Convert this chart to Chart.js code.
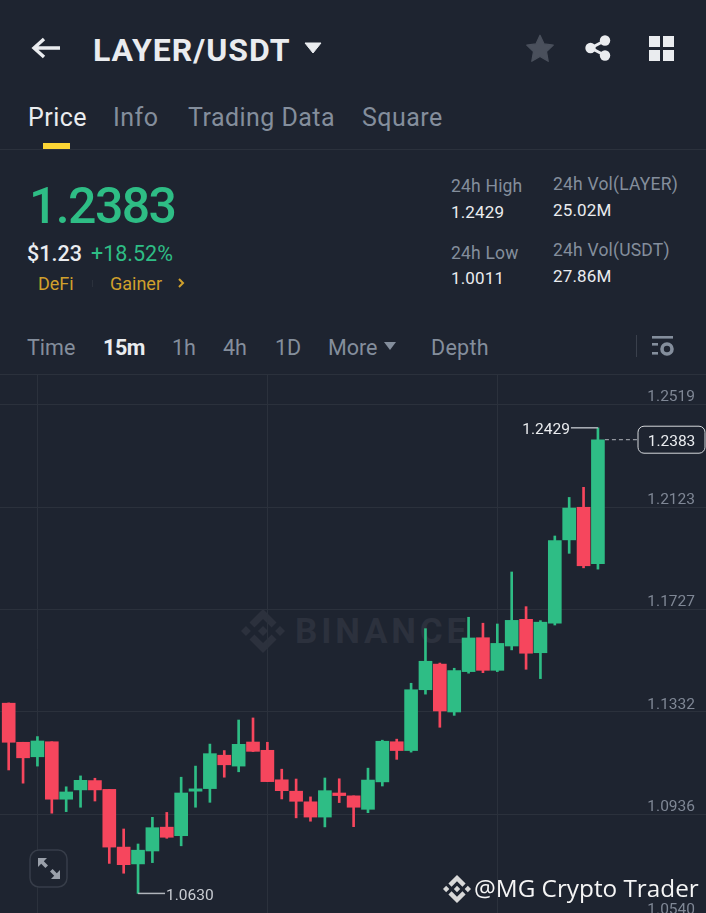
<!DOCTYPE html>
<html lang="en">
<head>
    <meta charset="UTF-8">
    <title>LAYER/USDT</title>
    <script src="https://cdn.jsdelivr.net/npm/chart.js"></script>
    <style>
        html, body {
            margin: 0;
            padding: 0;
            width: 706px;
            height: 913px;
            overflow: hidden;
            background: #1e2430;
            font-family: Roboto, sans-serif;
        }

        .t {
            position: absolute;
            white-space: nowrap;
            line-height: 1;
            color: #848e9c;
        }

        .w { color: #eaecef; }
        .g { color: #2ebd85; }
        .y { color: #d0a02c; font-size: 18px; }
        .tab { font-size: 25px; top: 105px; letter-spacing: 0.45px; }
        .small { font-size: 17.5px; letter-spacing: 0.2px; }
        .val { font-size: 17px; color: #eaecef; letter-spacing: 0.15px; }
        .range { font-size: 21.5px; top: 337px; }

        .line {
            position: absolute;
            background: #2b313c;
        }

        svg { position: absolute; }

        #chartWrap {
            position: absolute;
            left: 0;
            top: 374px;
            width: 706px;
            height: 551px;
        }

        #wmText {
            font-size: 35px;
            font-weight: 700;
            color: #2c313d;
            left: 295px;
            top: 614px;
            letter-spacing: 3.8px;
        }

        #credit {
            font-family: "Open Sans", sans-serif;
            font-size: 24.3px;
            color: #f5f5f5;
            left: 474px;
            top: 876px;
        }
    </style>
</head>

<body>
    <!-- top bar -->
    <svg style="left:31px;top:36px" width="30" height="24" viewBox="0 0 30 24">
        <path d="M13 3 L3 12 L13 21 M3 12 L29 12" fill="none" stroke="#eaecef" stroke-width="3.4"/>
    </svg>
    <div class="t w" style="left:93px;top:34px;font-size:32px;font-weight:700;letter-spacing:1px">LAYER/USDT</div>
    <svg style="left:304px;top:42px" width="18" height="12" viewBox="0 0 18 12">
        <path d="M1 1 H17 L9 11 Z" fill="#eaecef" stroke="#eaecef" stroke-linejoin="round"/>
    </svg>
    <svg style="left:525px;top:34px" width="30" height="29" viewBox="0 0 24 24">
        <path d="M12 1 L15.4 8.2 L23 9.2 L17.4 14.6 L18.8 22.6 L12 18.7 L5.2 22.6 L6.6 14.6 L1 9.2 L8.6 8.2 Z" fill="#4a505c" stroke="#4a505c" stroke-linejoin="round"/>
    </svg>
    <svg style="left:584px;top:34px" width="28" height="28" viewBox="0 0 28 28">
        <path d="M21 6.5 L7 14 L21 21.5" fill="none" stroke="#eaecef" stroke-width="3"/>
        <circle cx="21" cy="6.5" r="5.2" fill="#eaecef"/>
        <circle cx="6.5" cy="14" r="5.2" fill="#eaecef"/>
        <circle cx="21" cy="21.5" r="5.2" fill="#eaecef"/>
    </svg>
    <svg style="left:649px;top:36px" width="25" height="25" viewBox="0 0 25 25">
        <rect x="0" y="0" width="11" height="11" fill="#eaecef"/>
        <rect x="14" y="0" width="11" height="11" fill="#eaecef"/>
        <rect x="0" y="14" width="11" height="11" fill="#eaecef"/>
        <rect x="14" y="14" width="11" height="11" fill="#eaecef"/>
    </svg>

    <!-- tabs -->
    <div class="t tab w" style="left:28px">Price</div>
    <div class="t tab" style="left:113px">Info</div>
    <div class="t tab" style="left:188px">Trading Data</div>
    <div class="t tab" style="left:362px">Square</div>
    <div class="line" style="left:0;top:149px;width:706px;height:1px"></div>
    <div class="line" style="left:43px;top:143px;width:27px;height:6px;background:#fcd535"></div>

    <!-- price block -->
    <div class="t g" style="left:29px;top:181px;font-size:50px;font-weight:500;letter-spacing:-1.6px">1.2383</div>
    <div class="t w" style="left:27px;top:243px;font-size:21.5px;font-weight:500">$1.23</div>
    <div class="t g" style="left:91px;top:243px;font-size:21.5px">+18.52%</div>
    <div class="t y" style="left:38px;top:275px">DeFi</div>
    <div class="line" style="left:92px;top:280px;width:1px;height:7px"></div>
    <div class="t y" style="left:110px;top:275px">Gainer</div>
    <svg style="left:176px;top:277px" width="10" height="12" viewBox="0 0 10 12">
        <path d="M3 2 L7 6 L3 10" fill="none" stroke="#d0a02c" stroke-width="2"/>
    </svg>

    <div class="t small" style="left:451px;top:178px">24h High</div>
    <div class="t val" style="left:451px;top:204px">1.2429</div>
    <div class="t small" style="left:553px;top:176px">24h Vol(LAYER)</div>
    <div class="t val" style="left:553px;top:202px">25.02M</div>
    <div class="t small" style="left:451px;top:245px">24h Low</div>
    <div class="t val" style="left:451px;top:270px">1.0011</div>
    <div class="t small" style="left:553px;top:242px">24h Vol(USDT)</div>
    <div class="t val" style="left:553px;top:268px">27.86M</div>

    <!-- interval row -->
    <div class="t range" style="left:27px">Time</div>
    <div class="t range w" style="left:103px;font-weight:700;letter-spacing:-0.4px">15m</div>
    <div class="t range" style="left:172px">1h</div>
    <div class="t range" style="left:223px">4h</div>
    <div class="t range" style="left:275px">1D</div>
    <div class="t range" style="left:328px">More</div>
    <svg style="left:383px;top:341px" width="14" height="10" viewBox="0 0 14 10">
        <path d="M1 1 H13 L7 9 Z" fill="#848e9c"/>
    </svg>
    <div class="t range" style="left:431px;letter-spacing:0.3px">Depth</div>
    <div class="line" style="left:636px;top:335px;width:1px;height:22px;background:#3a404c"></div>
    <svg style="left:651px;top:335px" width="23" height="23" viewBox="0 0 23 23" fill="#848e9c">
        <rect x="1" y="1" width="21" height="2.6"/>
        <rect x="1" y="8" width="6" height="2.6"/>
        <rect x="1" y="17" width="6" height="2.6"/>
        <circle cx="16" cy="14" r="5" fill="none" stroke="#848e9c" stroke-width="3.6"/>
    </svg>
    <div class="line" style="left:0;top:374px;width:706px;height:1px"></div>

    <!-- watermark sits under the chart -->
    <svg style="left:241px;top:609px" width="44" height="44" viewBox="0 0 126.61 126.61" fill="#2c313d">
        <path d="M38.73 53.2l24.59-24.58 24.6 24.6 14.3-14.31L63.32 0 24.43 38.9z"/>
        <path d="M0 63.31l14.3-14.31 14.31 14.31-14.31 14.3z"/>
        <path d="M38.73 73.41l24.59 24.59 24.6-24.6 14.31 14.29-38.9 38.91-38.91-38.88z"/>
        <path d="M98 63.31l14.3-14.31 14.31 14.3-14.31 14.32z"/>
        <path d="M77.83 63.3L63.32 48.78 52.59 59.51l-1.24 1.23-2.54 2.54 14.51 14.5 14.51-14.47z"/>
    </svg>
    <div class="t" id="wmText">BINANCE</div>

    <div id="chartWrap"><canvas id="klineChart"></canvas></div>

    <!-- overlays on the chart -->
    <svg style="left:29px;top:849px" width="40" height="40" viewBox="0 0 40 40">
        <rect x="1" y="1" width="37" height="37" rx="9" fill="#1e2430" stroke="#373d49" stroke-width="1.5"/>
        <path d="M9 9 H18 L14.8 12.2 L19 16.4 L16.4 19 L12.2 14.8 L9 18 Z" fill="#9aa0aa"/>
        <path d="M31 30 H22 L25.2 26.8 L21 22.6 L23.6 20 L27.8 24.2 L31 21 Z" fill="#9aa0aa"/>
    </svg>
    <svg style="left:443px;top:875px" width="28" height="28" viewBox="0 0 126.61 126.61" fill="#d8d8d8">
        <path d="M38.73 53.2l24.59-24.58 24.6 24.6 14.3-14.31L63.32 0 24.43 38.9z"/>
        <path d="M0 63.31l14.3-14.31 14.31 14.31-14.31 14.3z"/>
        <path d="M38.73 73.41l24.59 24.59 24.6-24.6 14.31 14.29-38.9 38.91-38.91-38.88z"/>
        <path d="M98 63.31l14.3-14.31 14.31 14.3-14.31 14.32z"/>
        <path d="M77.83 63.3L63.32 48.78 52.59 59.51l-1.24 1.23-2.54 2.54 14.51 14.5 14.51-14.47z"/>
    </svg>
    <div class="t" id="credit">@MG Crypto Trader</div>

    <script>
        // 15m candles, oldest first
        const opens = [1.1365, 1.1214, 1.1158, 1.1216, 1.0994, 1.1030, 1.1066, 1.1032, 1.0809, 1.0744, 1.0794, 1.0886, 1.0853, 1.1025,
            1.1035, 1.1164, 1.1122, 1.1215, 1.1183, 1.1069, 1.1025, 1.0984, 1.0925, 1.1018, 1.1007, 1.0955, 1.1061, 1.1216,
            1.1182, 1.1417, 1.1516, 1.1331, 1.1487, 1.1618, 1.1492, 1.1586, 1.1689, 1.1560, 1.1674, 1.1996, 1.2122, 1.1904];
        const highs = [1.1366, 1.1214, 1.1236, 1.1216, 1.1042, 1.1084, 1.1075, 1.1032, 1.0879, 1.0821, 1.0924, 1.0943, 1.1079, 1.1122,
            1.1207, 1.1182, 1.1300, 1.1308, 1.1214, 1.1110, 1.1072, 1.1003, 1.1076, 1.1073, 1.1007, 1.1114, 1.1222, 1.1226,
            1.1442, 1.1653, 1.1520, 1.1500, 1.1697, 1.1674, 1.1671, 1.1872, 1.1738, 1.1684, 1.2011, 1.2160, 1.2199, 1.2429];
        const lows = [1.1107, 1.1056, 1.1122, 1.0940, 1.0946, 1.0963, 1.0987, 1.0746, 1.0708, 1.0630, 1.0749, 1.0843, 1.0814, 1.0963,
            1.0982, 1.1079, 1.1100, 1.1178, 1.1062, 1.0995, 1.0922, 1.0909, 1.0887, 1.0981, 1.0888, 1.0942, 1.1045, 1.1148,
            1.1176, 1.1400, 1.1272, 1.1318, 1.1481, 1.1483, 1.1487, 1.1571, 1.1496, 1.1460, 1.1667, 1.1944, 1.1888, 1.1883];
        const closes = [1.1214, 1.1154, 1.1219, 1.0994, 1.1022, 1.1067, 1.1030, 1.0809, 1.0741, 1.0797, 1.0884, 1.0847, 1.1018, 1.1034,
            1.1170, 1.1127, 1.1206, 1.1179, 1.1062, 1.1027, 1.0986, 1.0925, 1.1027, 1.1008, 1.0963, 1.1068, 1.1218, 1.1182,
            1.1417, 1.1527, 1.1335, 1.1491, 1.1617, 1.1492, 1.1596, 1.1685, 1.1558, 1.1678, 1.1993, 1.2119, 1.1896, 1.2383];

        const priceTicks = [1.2519, 1.2123, 1.1727, 1.1332, 1.0936, 1.0540];
        const timeGrid = [2, 18, 34];
        const lastPrice = 1.2383;
        const highMark = { index: 41, price: 1.2429 };
        const lowMark = { index: 9, price: 1.0630 };

        const upColor = '#2ebd85';
        const downColor = '#f6465d';
        const candleColors = opens.map((o, i) => closes[i] >= o ? upColor : downColor);

        const wicks = lows.map((l, i) => ({ x: i, y: [l, highs[i]] }));
        const bodies = opens.map((o, i) => ({ x: i, y: [o, closes[i]] }));

        // the axis labels sit inside the plot, so the axes must not take any room
        function noAxisRoom(axis) {
            if (axis.axis === 'y') axis.width = 0;
            axis.paddingTop = 0;
            axis.paddingBottom = 0;
            axis.paddingLeft = 0;
            axis.paddingRight = 0;
        }

        // high / low callouts and the last price box
        const priceMarks = {
            id: 'priceMarks',
            afterDatasetsDraw(chart) {
                const { ctx, scales: { x, y } } = chart;
                ctx.save();
                ctx.font = '15.5px Roboto';
                ctx.textBaseline = 'middle';
                ctx.lineWidth = 1.5;
                ctx.strokeStyle = '#b0b4bb';

                const hx = x.getPixelForValue(highMark.index);
                const hy = y.getPixelForValue(highMark.price);
                ctx.beginPath();
                ctx.moveTo(hx, hy);
                ctx.lineTo(hx - 27, hy);
                ctx.stroke();
                ctx.fillStyle = '#eaecef';
                ctx.textAlign = 'right';
                ctx.fillText(highMark.price.toFixed(4), hx - 28, hy + 2);

                const lx = x.getPixelForValue(lowMark.index);
                const ly = y.getPixelForValue(lowMark.price);
                ctx.beginPath();
                ctx.moveTo(lx, ly);
                ctx.lineTo(lx + 27, ly);
                ctx.stroke();
                ctx.fillStyle = '#c8ccd2';
                ctx.textAlign = 'left';
                ctx.fillText(lowMark.price.toFixed(4), lx + 28, ly + 3);

                const py = y.getPixelForValue(lastPrice);
                ctx.lineWidth = 1;
                ctx.setLineDash([4, 3]);
                ctx.beginPath();
                ctx.moveTo(x.getPixelForValue(41) + 7, py);
                ctx.lineTo(638, py);
                ctx.stroke();
                ctx.setLineDash([]);
                ctx.strokeStyle = '#d5d8dc';
                ctx.fillStyle = '#1e2430';
                ctx.beginPath();
                ctx.roundRect(638, py - 13.5, 67, 27, 6);
                ctx.fill();
                ctx.stroke();
                ctx.fillStyle = '#eaecef';
                ctx.textAlign = 'center';
                ctx.fillText(lastPrice.toFixed(4), 671.5, py + 2);
                ctx.restore();
            }
        };

        new Chart(document.getElementById('klineChart'), {
            type: 'bar',
            data: {
                datasets: [
                    { label: 'body', data: bodies, backgroundColor: candleColors, barThickness: 13, grouped: false, order: 1 },
                    { label: 'wick', data: wicks, backgroundColor: candleColors, barThickness: 2, grouped: false, order: 2 }
                ]
            },
            options: {
                responsive: true,
                maintainAspectRatio: false,
                animation: false,
                layout: { padding: 0 },
                plugins: { legend: { display: false }, tooltip: { enabled: false } },
                scales: {
                    x: {
                        type: 'linear',
                        offset: false,
                        min: -0.605,
                        max: 48.52,
                        afterBuildTicks: axis => { axis.ticks = timeGrid.map(v => ({ value: v })); },
                        afterFit: noAxisRoom,
                        ticks: { display: false },
                        grid: { color: '#2b313c', drawTicks: false, offset: false },
                        border: { display: false }
                    },
                    y: {
                        position: 'right',
                        min: 1.0508,
                        max: 1.26369,
                        afterBuildTicks: axis => { axis.ticks = priceTicks.map(v => ({ value: v })); },
                        afterFit: noAxisRoom,
                        ticks: {
                            mirror: true,
                            padding: -11,
                            labelOffset: -7,
                            color: '#7f8795',
                            font: { family: 'Roboto', size: 15.5 },
                            callback: v => v.toFixed(4)
                        },
                        grid: { color: '#2b313c', drawTicks: false },
                        border: { display: false }
                    }
                }
            },
            plugins: [priceMarks]
        });
    </script>
</body>
</html>
